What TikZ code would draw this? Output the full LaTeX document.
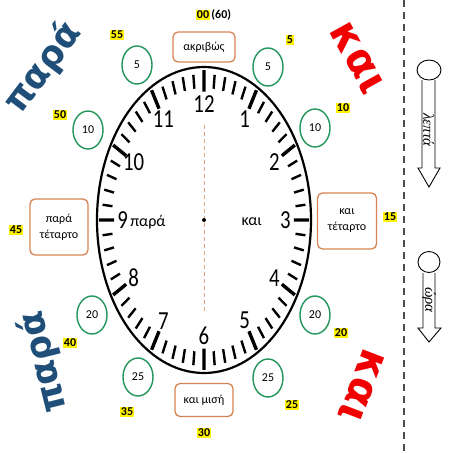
\documentclass[tikz,border=0pt]{standalone}
\usepackage{fontspec}
\setmainfont{Carlito}
\newfontfamily\wordfont{DejaVu Sans}
\newfontfamily\handfont{Liberation Serif}
\usetikzlibrary{calc,positioning,shapes.geometric}
\definecolor{ringgreen}{RGB}{34,150,90}
\definecolor{boxorange}{RGB}{214,132,84}
\definecolor{parablue}{RGB}{31,78,121}
\definecolor{kaired}{RGB}{240,0,0}
\definecolor{midorange}{RGB}{228,165,120}
\def\cx{204}
\def\cy{-220}
\def\rx{107}
\def\ry{153}

\begin{document}
\begin{tikzpicture}[x=1pt, y=1pt,
	ring/.style={ellipse, draw=ringgreen, line width=1.4pt, minimum width=30pt, minimum height=38pt, inner sep=0pt, font=\fontsize{12}{12}\selectfont},
	yellowtag/.style={fill=yellow, inner sep=1pt, font=\bfseries\fontsize{12}{12}\selectfont},
	wordbox/.style={draw=boxorange, line width=1.3pt, rounded corners=5pt, align=center, inner sep=0pt, font=\fontsize{12}{16}\selectfont},
	hournum/.style={xscale=0.8, inner sep=0pt, font=\fontsize{26}{26}\selectfont},
	bigpara/.style={parablue, inner sep=0pt, font=\wordfont\bfseries\fontsize{36}{36}\selectfont},
	bigkai/.style={kaired, inner sep=0pt, font=\wordfont\bfseries\fontsize{42}{42}\selectfont},
	arrowword/.style={rotate=-90, inner sep=0pt, font=\handfont\itshape\fontsize{15}{15}\selectfont}]
		%%%%% START %%%%%
		
		\useasboundingbox[fill=white] (0,0) rectangle (453,-453);
		
		% clock face
		\coordinate (mid) at (\cx,\cy);
		\draw[line width=2.2pt] (mid) ellipse [x radius=\rx, y radius=\ry];
		\draw[line width=2.4pt]
			\foreach \tck in {1,2,3,4,6,7,8,9,11,12,13,14,16,17,18,19,21,22,23,24,26,27,28,29,31,32,33,34,36,37,38,39,41,42,43,44,46,47,48,49,51,52,53,54,56,57,58,59}
				{({204+102*cos(6*\tck)},{-220+146*sin(6*\tck)}) -- ({204+92*cos(6*\tck)},{-220+132*sin(6*\tck)})};
		\draw[line width=3.4pt]
			\foreach \tck in {0,...,11}
				{({204+104.9*cos(30*\tck)},{-220+149.9*sin(30*\tck)}) -- ({204+89.9*cos(30*\tck)},{-220+128.5*sin(30*\tck)})};
		\foreach \h in {1,...,12}
			\node[hournum] (hour\h) at ({\cx+0.76*\rx*cos(90-30*\h)},{\cy+0.76*\ry*sin(90-30*\h)}) {\h};
		
		\draw[midorange, line width=0.9pt, dash pattern=on 4pt off 3pt] (\cx,-125) -- (\cx,-313);
		\fill (mid) circle (2);
		
		\node[anchor=east, font=\fontsize{16}{16}\selectfont] (leftword) at (169,-222) {παρά};
		\node[anchor=west, font=\fontsize{16}{16}\selectfont] (rightword) at (238,-222) {και};
		
		% green rings
		\node[ring] (ringa) at (137,-65) {5};
		\node[ring] (ringb) at (268,-67) {5};
		\node[ring] (ringc) at (88,-130) {10};
		\node[ring] (ringd) at (315,-128) {10};
		\node[ring] (ringe) at (92,-315) {20};
		\node[ring] (ringf) at (315,-315) {20};
		\node[ring] (ringg) at (138,-377) {25};
		\node[ring] (ringh) at (268,-378) {25};
		
		% orange boxes
		\node[wordbox, minimum width=62pt, minimum height=30pt] (exact) at (204,-47) {ακριβώς};
		\node[wordbox, minimum width=58pt, minimum height=56pt] (quarterto) at (59,-227) {παρά\\τέταρτο};
		\node[wordbox, minimum width=59pt, minimum height=56pt] (quarterpast) at (347,-221) {και\\τέταρτο};
		\node[wordbox, minimum width=58pt, minimum height=33pt] (halfpast) at (204,-400) {και μισή};
		
		% yellow minute tags
		\node[yellowtag] (tagzero) at (203,-15) {00};
		\node[right=1pt of tagzero, inner sep=0pt, font=\bfseries\fontsize{12}{12}\selectfont] (tagsixty) {(60)};
		\node[yellowtag] (tagfive) at (290,-40) {5};
		\node[yellowtag] (tagten) at (343,-108) {10};
		\node[yellowtag] (tagfifteen) at (390,-217) {15};
		\node[yellowtag] (tagtwenty) at (341,-333) {20};
		\node[yellowtag] (tagtwentyfive) at (292,-405) {25};
		\node[yellowtag] (tagthirty) at (204,-433) {30};
		\node[yellowtag] (tagthirtyfive) at (127,-412) {35};
		\node[yellowtag] (tagforty) at (70,-343) {40};
		\node[yellowtag] (tagfortyfive) at (16,-230) {45};
		\node[yellowtag] (tagfifty) at (60,-115) {50};
		\node[yellowtag] (tagfiftyfive) at (117,-35) {55};
		
		% big words
		\node[bigpara, rotate=53] (paraup) at (43,-68) {παρά};
		\node[bigkai, rotate=-61] (kaiup) at (357,-58) {και};
		\node[bigpara, rotate=104] (paradown) at (44,-362) {παρά};
		\node[bigkai, rotate=-111] (kaidown) at (362,-386) {και};
		
		% separator
		\draw[black!70, line width=1.5pt, dash pattern=on 7pt off 5pt] (404,0) -- (404,-453);
		
		% minute hand arrow
		\draw[line width=0.9pt, fill=white] (422,-80) -- (422,-168) -- (418,-168) -- (429,-187) -- (440,-168) -- (435,-168) -- (435,-80);
		\draw[line width=0.9pt, fill=white] (429,-70) ellipse [x radius=12, y radius=10];
		\node[arrowword] (minutes) at (428.5,-130) {λεπτά};
		
		% hour hand arrow
		\draw[line width=0.9pt, fill=white] (423,-273) -- (423,-328) -- (418,-328) -- (429,-342) -- (441,-328) -- (435,-328) -- (435,-273);
		\draw[line width=0.9pt, fill=white] (429,-262) ellipse [x radius=11, y radius=10.5];
		\node[arrowword] (hours) at (429,-300) {ώρα};
		
		%%%%% END %%%%%
\end{tikzpicture}
\end{document}
